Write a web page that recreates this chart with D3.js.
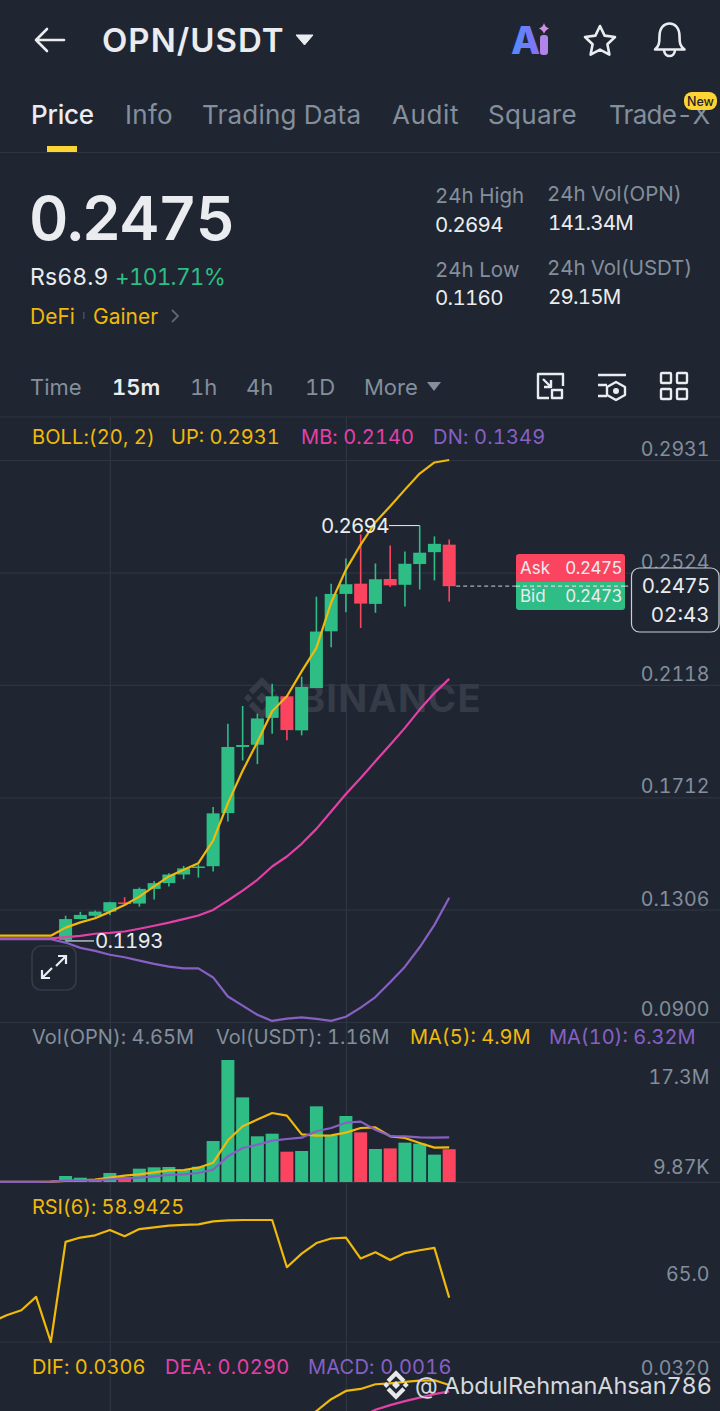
<!DOCTYPE html>
<html>
<head>
<meta charset="utf-8">
<script src="https://cdn.jsdelivr.net/npm/d3@7"></script>
<style>
  html, body { margin: 0; padding: 0; background: #1f2631; overflow: hidden; }
  svg { display: block; font-family: Inter, sans-serif; font-variant-numeric: tabular-nums; }
</style>
</head>
<body>
<div id="chart"></div>
<script>
// candles, first one sits at index 0
const opens = [.1197,.1272,.1284,.1299,.1332,.1328,.1381,.1402,.1433,.1457,.1463,.1655,.1894,.1902,.1999,.2077,.1954,.2107,.2312,.2447,.2484,.2411,.2501,.2480,.2555,.2598,.2625]
const closes = [.1272,.1287,.1299,.1333,.1327,.1381,.1402,.1433,.1455,.1462,.1654,.1894,.1901,.1997,.2077,.1955,.2111,.2311,.2447,.2482,.2412,.2500,.2478,.2556,.2596,.2628,.2475]
const highs = [.1284,.1298,.1303,.1335,.1351,.1386,.1410,.1438,.1464,.1469,.1677,.1978,.2042,.2014,.2122,.2078,.2148,.2437,.2484,.2575,.2662,.2557,.2622,.2600,.2694,.2655,.2644]
const lows = [.1193,.1271,.1280,.1286,.1325,.1317,.1343,.1390,.1416,.1422,.1444,.1625,.1845,.1832,.1942,.1918,.1936,.2107,.2254,.2381,.2324,.2379,.2472,.2402,.2463,.2496,.2420]
const volumes = [.85,.61,.38,1.28,.71,1.89,2.08,2.13,1.75,2.17,5.81,17.3,12.0,6.48,6.85,4.30,4.40,10.73,6.62,9.36,7.04,4.68,4.77,5.58,5.44,3.88,4.65]

// indicators start 5 bars before the first candle (index -5)
const bollUp = [.1212,.1212,.1212,.1212,.1212,.1241,.1260,.1275,.1298,.1323,.1353,.1390,.1426,.1450,.1474,.1556,.1691,.1808,.1912,.2023,.2077,.2167,.2252,.2416,.2535,.2625,.2706,.2764,.2824,.2882,.2922,.2931]
const bollMb = [.1202,.1202,.1202,.1202,.1202,.1207,.1211,.1219,.1222,.1227,.1237,.1248,.1259,.1272,.1285,.1305,.1339,.1375,.1414,.1462,.1498,.1544,.1598,.1661,.1724,.1782,.1842,.1902,.1963,.2029,.2089,.2140]
const bollDn = [.1199,.1199,.1199,.1199,.1199,.1187,.1168,.1157,.1143,.1134,.1122,.1110,.1100,.1094,.1094,.1061,.0992,.0959,.0926,.0904,.0912,.0917,.0911,.0904,.0919,.0952,.0990,.1044,.1100,.1170,.1251,.1349]
const volMa5 = [.03,.03,.03,.03,.05,.14,.24,.33,.61,.90,1.09,1.37,1.65,1.70,2.03,2.74,5.91,7.9,8.85,9.78,9.41,6.76,6.57,6.62,7.0,7.66,7.75,6.48,6.24,5.53,4.87,4.9]
const volMa10 = [.03,.03,.03,.03,.05,.19,.24,.24,.38,.47,.61,.8,.99,1.09,1.28,1.75,3.64,4.82,5.29,5.86,6.1,6.29,7.19,7.66,8.41,8.56,7.42,6.52,6.48,6.33,6.29,6.32]
const rsi = [45.9,49.6,52.2,59.3,35.4,88.4,90.7,91.9,94.7,91.4,95.2,96.1,97,97.4,97.7,99.3,99.8,100,100,100,75,82.2,87.8,90.2,90.7,79.6,82.9,78.8,82.5,84,85.2,58.9]
// the macd panel is cut off by the screen, these start at candle 15 and 19
const dif = [.0154,.0205,.0240,.0270,.0291,.0296,.0308,.0310,.0314,.0317,.0318,.0306]
const dea = [.0212,.0225,.0243,.0255,.0265,.0274,.0283,.0290]

const priceTicks = [.2931,.2524,.2118,.1712,.1306,.0900]
const volTicks = [17.3,.00987]
const rsiTicks = [65]
const macdTicks = [.032]
const timeTicks = [3,19]

const tabs = ["Price","Info","Trading Data","Audit","Square","Trade-X"]
const tabX = [31,125,202,392,488,609]
const intervals = ["Time","15m","1h","4h","1D","More"]
const intervalX = [30,112,190,246,305,364]

const bg = "#1f2631"
const grid = "#2e3541"
const green = "#2ebd85"
const red = "#fb4560"
const yellow = "#f0b90b"
const pink = "#e440a8"
const purple = "#8860c4"
const gray = "#848e9c"
const white = "#eaecef"

const width = 720
const height = 1411

const svg = d3.select("#chart")
  .append("svg")
    .attr("width", width)
    .attr("height", height)
    .attr("viewBox", `0 0 ${width} ${height}`)

const xScale = d3.scaleLinear().domain([0, 26]).range([65.6, 449.2])
const yPrice = d3.scaleLinear().domain([.09, .2931]).range([1022, 460])
const yVol = d3.scaleLinear().domain([0, 17.3]).range([1182, 1060])
const yRsi = d3.scaleLinear().domain([35.4, 100]).range([1342, 1220])
const yMacd = d3.scaleLinear().domain([.032, .0241]).range([1379.5, 1410.6])

const label = (x, y, str, fill, size, opts = {}) => svg
  .append("text")
    .attr("x", x)
    .attr("y", y)
    .attr("fill", fill)
    .attr("font-size", size)
    .attr("font-weight", opts.weight || 400)
    .attr("text-anchor", opts.anchor || "start")
    .attr("letter-spacing", opts.spacing || 0)
    .text(str)

const drawHeader = () => {
  // back arrow
  svg.append("path")
    .attr("d", "M36 40H64M47 29L36 40L47 51")
    .attr("fill", "none").attr("stroke", white).attr("stroke-width", 2.6)
    .attr("stroke-linecap", "round").attr("stroke-linejoin", "round")
  label(102, 52, "OPN/USDT", white, 33, {weight: 600, spacing: 1})
  svg.append("path").attr("d", "M296 35H313L304.5 45Z").attr("fill", white).attr("stroke", white).attr("stroke-linejoin", "round")

  const grad = svg.append("defs").append("linearGradient").attr("id", "ai")
  grad.append("stop").attr("offset", "0%").attr("stop-color", "#4f8dff")
  grad.append("stop").attr("offset", "100%").attr("stop-color", "#8a70f2")
  label(511, 54, "A", "url(#ai)", 38, {weight: 800})
  svg.append("rect").attr("x", 540).attr("y", 35).attr("width", 8).attr("height", 20).attr("rx", 3).attr("fill", "#b184ea")
  svg.append("path").attr("d", "M544 23Q545 27 549 28.5Q545 30 544 34Q543 30 539 28.5Q543 27 544 23Z").attr("fill", "#d08fe0")

  // star and bell
  svg.append("path")
    .attr("d", "M600 26L604.6 35.6L615 37L607.4 44.2L609.4 54.6L600 49.6L590.6 54.6L592.6 44.2L585 37L595.4 35.6Z")
    .attr("fill", "none").attr("stroke", white).attr("stroke-width", 2.6).attr("stroke-linejoin", "round")
  svg.append("path")
    .attr("d", "M655 49.5C659 46 659.5 43 659.5 36C659.5 28 664 23.5 669.5 23.5C675 23.5 679.5 28 679.5 36C679.5 43 680 46 684.5 49.5ZM664 50C664.5 58 674.5 58 675 50")
    .attr("fill", "none").attr("stroke", white).attr("stroke-width", 2.6).attr("stroke-linejoin", "round")

  // Price is a bit tight and the hyphen in Trade-X comes out wide in this font
  const tabSpacing = [-.2,.3,.2,.6,.3,-.7]
  tabs.forEach((t, i) => label(tabX[i], 124, t, i === 0 ? white : gray, 26, {weight: i === 0 ? 500 : 400, spacing: tabSpacing[i]}))
  svg.append("rect").attr("x", 47).attr("y", 146).attr("width", 30).attr("height", 6).attr("fill", "#fcd535")
  svg.append("line").attr("x1", 0).attr("x2", width).attr("y1", 152.5).attr("y2", 152.5).attr("stroke", grid)
  svg.append("rect").attr("x", 684).attr("y", 92).attr("width", 33).attr("height", 18).attr("rx", 8).attr("fill", "#fcd535")
  label(700.5, 105.5, "New", "#1e2329", 12.5, {anchor: "middle", weight: 500})
}

const drawStats = () => {
  label(29, 240, "0.2475", white, 61, {weight: 600, spacing: -1.5})
  label(30, 285, "Rs68.9", white, 23, {spacing: .1})
  label(115, 285, "+101.71%", green, 22.5, {spacing: -.7})
  label(30, 324, "DeFi", yellow, 21)
  svg.append("rect").attr("x", 83).attr("y", 312).attr("width", 1.5).attr("height", 7).attr("fill", "#474d57")
  label(93, 324, "Gainer", yellow, 21)
  svg.append("path").attr("d", "M172 310L178 316L172 322").attr("fill", "none").attr("stroke", "#5e6673").attr("stroke-width", 1.8)

  label(435, 203, "24h High", gray, 20.5)
  label(435, 232, "0.2694", white, 20.5, {spacing: -.7})
  label(435, 277, "24h Low", gray, 20.5)
  label(435, 305, "0.1160", white, 20.5, {spacing: -.7})
  label(547, 201, "24h Vol(OPN)", gray, 20.5)
  label(548, 230, "141.34M", white, 20.5, {spacing: -.8})
  label(547, 275, "24h Vol(USDT)", gray, 20.5, {spacing: -.1})
  label(548, 304, "29.15M", white, 20.5, {spacing: -.8})

  intervals.forEach((t, i) => label(intervalX[i], 395, t, i === 1 ? white : gray, 22, {weight: i === 1 ? 600 : 400}))
  svg.append("path").attr("d", "M427 382H441L434 391Z").attr("fill", gray)

  const icons = svg.append("g")
    .attr("fill", "none").attr("stroke", white).attr("stroke-width", 2.4).attr("stroke-linejoin", "round")
  icons.append("path").attr("d", "M549 398H538V374H563V386M543 379L551 387M544 387H551V380")
  icons.append("rect").attr("x", 552).attr("y", 390).attr("width", 10).attr("height", 8)
  icons.append("path").attr("d", "M598 375H626M598 385H607M598 396H607M616 382L625 387V395L616 400L607 395V387Z")
  icons.append("circle").attr("cx", 616).attr("cy", 391).attr("r", 1.8).attr("fill", white)
  ;[[661,373],[677,373],[661,389],[677,389]].forEach(d => {
    icons.append("rect").attr("x", d[0]).attr("y", d[1]).attr("width", 10).attr("height", 10).attr("rx", 1)
  })
}

// shared axis drawing: optional grid line across the chart, label near it on the right
const drawAxis = (scale, ticks, format, labelY, showLine = () => true) => {
  svg.append("g")
    .call(d3.axisRight(scale).tickValues(ticks).tickFormat(format).tickSize(width))
    .call(g => g.select(".domain").remove())
    .call(g => g.selectAll(".tick line")
      .attr("stroke", d => showLine(d) ? grid : "none")
      .attr("stroke-width", 1.2))
    .call(g => g.selectAll(".tick text")
      .attr("x", 709.5)
      .attr("y", labelY)
      .attr("dy", 0)
      .attr("text-anchor", "end")
      .attr("fill", gray)
      .attr("font-family", "Inter, sans-serif")
      .attr("font-size", 19.6))
}

const drawGrid = () => {
  svg.append("g")
    .attr("transform", "translate(0, 417)")
    .call(d3.axisBottom(xScale).tickValues(timeTicks).tickFormat("").tickSize(height - 417))
    .call(g => g.select(".domain").remove())
    .call(g => g.selectAll(".tick line").attr("stroke", grid).attr("stroke-width", 1.2))
  svg.append("line").attr("x1", 0).attr("x2", width).attr("y1", 417).attr("y2", 417).attr("stroke", grid).attr("stroke-width", 1.2)
  svg.append("line").attr("x1", 0).attr("x2", width).attr("y1", 1342).attr("y2", 1342).attr("stroke", grid).attr("stroke-width", 1.2)
  drawAxis(yPrice, priceTicks, d3.format(".4f"), d => d < .1 ? -6.5 : -4.5)
  drawAxis(yVol, volTicks, d => d > 1 ? `${d}M` : "9.87K", d => d > 1 ? 23 : -8, d => d < 1)
  drawAxis(yRsi, rsiTicks, d3.format(".1f"), -6, () => false)
  drawAxis(yMacd, macdTicks, d3.format(".4f"), -5.5, () => false)
}

const drawLogo = (cx, cy, s, fill) => {
  const logo = svg.append("g").attr("transform", `translate(${cx}, ${cy}) rotate(45) scale(${s})`).attr("fill", fill)
  logo.append("rect").attr("x", -3).attr("y", -3).attr("width", 6).attr("height", 6)
  logo.append("rect").attr("x", -9.5).attr("y", 5).attr("width", 4.5).attr("height", 4.5)
  logo.append("rect").attr("x", 5).attr("y", -9.5).attr("width", 4.5).attr("height", 4.5)
  logo.append("path").attr("d", "M-11 -11H3V-6.5H-6.5V3H-11Z")
  logo.append("path").attr("d", "M11 11H-3V6.5H6.5V-3H11Z")
}

const drawWatermark = () => {
  drawLogo(262, 698, 1.35, "#353c48")
  label(300, 712, "BINANCE", "#353c48", 38, {weight: 700, spacing: 1.2})
}

const drawVolumes = () => {
  svg.append("g").selectAll("rect")
    .data(volumes)
    .join("rect")
      .attr("x", (d, i) => xScale(i) - 6.5)
      .attr("width", 13)
      .attr("y", d => yVol(d))
      .attr("height", d => yVol(0) - yVol(d))
      .attr("fill", (d, i) => closes[i] >= opens[i] ? green : red)
}

const drawCandles = () => {
  const idx = d3.range(opens.length)
  const color = i => closes[i] >= opens[i] ? green : red
  const candles = svg.append("g")
  candles.selectAll("line")
    .data(idx)
    .join("line")
      .attr("x1", i => xScale(i))
      .attr("x2", i => xScale(i))
      .attr("y1", i => yPrice(highs[i]))
      .attr("y2", i => yPrice(lows[i]))
      .attr("stroke", color)
      .attr("stroke-width", 1.6)
  candles.selectAll("rect")
    .data(idx)
    .join("rect")
      .attr("x", i => xScale(i) - 6.5)
      .attr("width", 13)
      .attr("y", i => yPrice(Math.max(opens[i], closes[i])))
      .attr("height", i => Math.max(1.5, Math.abs(yPrice(opens[i]) - yPrice(closes[i]))))
      .attr("fill", color)
}

const drawLine = (values, start, yScale, color) => {
  const lineGenerator = d3.line()
    .x((d, i) => xScale(i + start))
    .y(d => yScale(d))
  svg.append("path")
    .attr("d", lineGenerator(values))
    .attr("fill", "none")
    .attr("stroke", color)
    .attr("stroke-width", 2.2)
    .attr("stroke-linejoin", "round")
}

const drawPriceTags = () => {
  const last = closes[closes.length - 1]
  const yLast = yPrice(last)
  svg.append("line")
    .attr("x1", xScale(26) + 7).attr("x2", 631)
    .attr("y1", yLast).attr("y2", yLast)
    .attr("stroke", "#aab0b9").attr("stroke-width", 1.2).attr("stroke-dasharray", "4 3")

  // high and low markers
  const iHigh = highs.indexOf(d3.max(highs))
  const iLow = lows.indexOf(d3.min(lows))
  svg.append("line").attr("x1", 389).attr("x2", xScale(iHigh)).attr("y1", yPrice(highs[iHigh])).attr("y2", yPrice(highs[iHigh])).attr("stroke", white)
  label(321, 533, d3.format(".4f")(highs[iHigh]), white, 20.5, {spacing: -.7})
  svg.append("line").attr("x1", xScale(iLow)).attr("x2", 94).attr("y1", yPrice(lows[iLow])).attr("y2", yPrice(lows[iLow])).attr("stroke", "#b7bdc6").attr("stroke-width", 1.5)
  label(95, 948, d3.format(".4f")(lows[iLow]), white, 20.5, {spacing: -.7})

  svg.append("path").attr("d", "M516 582V557Q516 554 519 554H622Q625 554 625 557V582Z").attr("fill", red)
  svg.append("path").attr("d", "M516 582V607Q516 610 519 610H622Q625 610 625 607V582Z").attr("fill", green)
  svg.append("line").attr("x1", 516).attr("x2", 625).attr("y1", yLast).attr("y2", yLast).attr("stroke", "#d5d8dc").attr("stroke-width", 1.2).attr("stroke-dasharray", "4 3")
  label(520, 574, "Ask", white, 17)
  label(622, 574, "0.2475", white, 17, {anchor: "end", spacing: -.5})
  label(520, 602, "Bid", white, 17)
  label(622, 602, "0.2473", white, 17, {anchor: "end", spacing: -.5})

  svg.append("rect").attr("x", 631.5).attr("y", 568).attr("width", 87.5).attr("height", 64).attr("rx", 8)
    .attr("fill", bg).attr("stroke", "#c9ced5").attr("stroke-width", 1.2)
  label(709.5, 593, "0.2475", white, 20.5, {anchor: "end", spacing: -.7})
  label(709.5, 622, "02:43", white, 20.5, {anchor: "end"})

  // expand button
  svg.append("rect").attr("x", 32).attr("y", 946).attr("width", 44).attr("height", 44).attr("rx", 9)
    .attr("fill", bg).attr("stroke", "#353c48").attr("stroke-width", 1.6)
  svg.append("path").attr("d", "M42 978L52 968M42 970V978H50M66 956L56 966M58 956H66V964")
    .attr("fill", "none").attr("stroke", white).attr("stroke-width", 2.2)
}

const drawLegends = () => {
  label(32, 444, "BOLL:(20, 2)", yellow, 20, {spacing: .1})
  label(171, 444, "UP: 0.2931", yellow, 20)
  label(301, 444, "MB: 0.2140", pink, 20, {spacing: .1})
  label(433, 444, "DN: 0.1349", purple, 20, {spacing: .2})

  label(32, 1044, "Vol(OPN): 4.65M", gray, 20, {spacing: .05})
  label(216, 1044, "Vol(USDT): 1.16M", gray, 20, {spacing: .05})
  label(410, 1044, "MA(5): 4.9M", yellow, 20)
  label(549, 1044, "MA(10): 6.32M", purple, 20)

  label(32, 1214, "RSI(6): 58.9425", yellow, 20, {spacing: -.1})

  label(32, 1374, "DIF: 0.0306", yellow, 20, {spacing: .1})
  label(165, 1374, "DEA: 0.0290", pink, 20, {spacing: .3})
  label(308, 1374, "MACD: 0.0016", purple, 20, {spacing: .2})

  drawLogo(396, 1385, .95, "#e6e8eb")
  label(415, 1394, "@ AbdulRehmanAhsan786", "#d5d8dd", 23.5, {spacing: -.1})
}

drawHeader()
drawStats()
drawGrid()
drawWatermark()
drawVolumes()
drawCandles()
drawLine(bollUp, -5, yPrice, yellow)
drawLine(bollMb, -5, yPrice, pink)
drawLine(bollDn, -5, yPrice, purple)
drawLine(volMa5, -5, yVol, yellow)
drawLine(volMa10, -5, yVol, purple)
drawLine(rsi, -5, yRsi, yellow)
drawLine(dif, 15, yMacd, yellow)
drawLine(dea, 19, yMacd, pink)
drawPriceTags()
drawLegends()
</script>
</body>
</html>
